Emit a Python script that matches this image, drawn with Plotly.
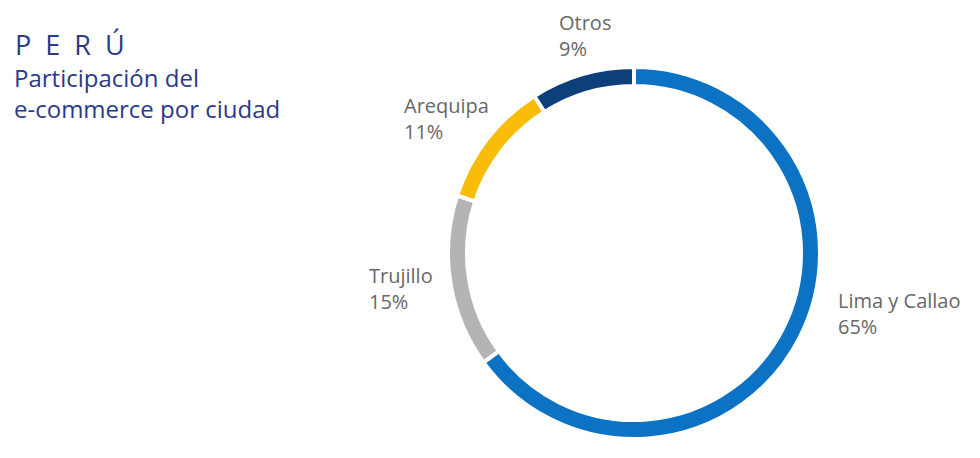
import plotly.graph_objects as go

# Data
cities = ["Lima y Callao", "Trujillo", "Arequipa", "Otros"]
shares = [65, 15, 11, 9]
colors = ["#0b72c4", "#b4b4b4", "#f9bd08", "#0d3f7b"]

title_main = "P\u00a0\u00a0E\u00a0\u00a0R\u00a0\u00a0Ú"
subtitle_lines = ["Participación del", "e-commerce por ciudad"]

W, H = 980, 458
cx, cy, R = 634, 253, 186  # pie centre / radius in px

fig = go.Figure(go.Pie(
    labels=cities,
    values=shares,
    sort=False,
    direction="clockwise",
    rotation=0,
    hole=0.898,
    marker=dict(colors=colors, line=dict(color="white", width=4)),
    textinfo="none",
    hoverinfo="label+percent",
    domain=dict(x=[(cx - R) / W, (cx + R) / W],
                y=[(H - cy - R) / H, (H - cy + R) / H]),
    showlegend=False,
))

# label positions (pixels, left edge and vertical centre of the 2-line block)
label_pos = {
    "Lima y Callao": (836, 313),
    "Trujillo": (367, 288),
    "Arequipa": (402, 118),
    "Otros": (557, 35),
}
label_color = "#676767"
annotations = []
for city, val in zip(cities, shares):
    x, y = label_pos[city]
    annotations.append(dict(
        x=x / W, y=1 - y / H, xref="paper", yref="paper",
        text=f"{city}<br>{val}%", showarrow=False, xanchor="left",
        yanchor="middle", align="left",
        font=dict(family="Open Sans", size=20, color=label_color),
    ))

navy = "#2b3a88"
annotations.append(dict(
    x=13 / W, y=1 - 44.5 / H, xref="paper", yref="paper", text=title_main,
    showarrow=False, xanchor="left", yanchor="middle",
    font=dict(family="Open Sans", size=27, color=navy),
))
annotations.append(dict(
    x=12 / W, y=1 - 93.5 / H, xref="paper", yref="paper",
    text="<br>".join(subtitle_lines),
    showarrow=False, xanchor="left", yanchor="middle", align="left",
    font=dict(family="Open Sans", size=24, color=navy),
))

fig.update_layout(
    width=W, height=H,
    margin=dict(l=0, r=0, t=0, b=0),
    paper_bgcolor="white", plot_bgcolor="white",
    annotations=annotations,
)

fig.write_html("out.html")
